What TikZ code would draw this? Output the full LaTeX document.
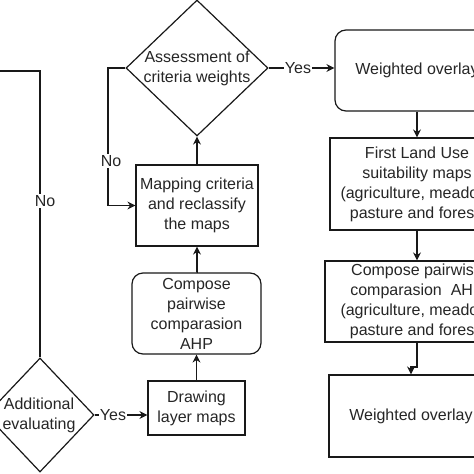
\documentclass[tikz,border=0pt]{standalone}
\usepackage{fontspec}
\setmainfont{Liberation Sans}
\usetikzlibrary{shapes.geometric,arrows.meta}
\begin{document}
\begin{tikzpicture}[x=1pt,y=-1pt,
  every node/.style={font=\fontsize{16}{20}\selectfont, text=black!85, align=center, inner sep=0pt},
  box/.style={draw=black!90, line width=1.2pt, rectangle},
  rbox/.style={box, rounded corners=11pt},
  dia/.style={draw=black!90, line width=1.2pt, diamond, inner sep=0pt},
  ln/.style={draw=black!90, line width=1.2pt},
  arr/.style={ln, -{Stealth[length=8pt,width=8pt]}},
  lbl/.style={fill=white, inner sep=1pt}]
\useasboundingbox (0,0) rectangle (474,474);
\fill[white] (0,0) rectangle (474,474);
\clip (0,0) rectangle (474,474);

% left column
\node[dia, minimum width=142pt, minimum height=136pt] (assess) at (197,68) {};
\node at (197,68) {Assessment of\\criteria weights};
\node[box, minimum width=122pt, minimum height=81pt] (map) at (197,205.5) {Mapping criteria\\and reclassify\\the maps};
\node[rbox, minimum width=129pt, minimum height=81pt] (comp) at (196.5,313.5) {Compose\\pairwise\\comparasion\\AHP};
\node[box, minimum width=97pt, minimum height=54pt] (drawl) at (196.5,408) {Drawing\\layer maps};
\node[dia, minimum width=108pt, minimum height=114pt] (add) at (40,415) {};
\node at (39,415) {Additional\\evaluating};
\coordinate (noL) at (-5,71);
\coordinate (c1) at (108,68);

% right column
\node[rbox, minimum width=164pt, minimum height=81pt] (wo1) at (417,70.5) {Weighted overlay};
\node[box, minimum width=174pt, minimum height=92pt] (first) at (417,184) {First Land Use\\suitability maps\\(agriculture, meadow,\\pasture and forest)};
\node[box, minimum width=184pt, minimum height=81pt] (cp) at (417,301.5) {Compose pairwise\\comparasion\ \ AHP\\(agriculture, meadow,\\pasture and forest)};
\node[box, minimum width=164pt, minimum height=82pt] (wo2) at (411,416) {Weighted overlay};
\coordinate (j1) at (417,367);

% connectors
\draw[arr] (drawl.north) -- (comp.south);
\draw[arr] (comp.north) -- (map.north |- comp.north) -- (map.south);
\draw[arr] (map.north) -- (assess.south);
\draw[arr] (assess.west) -- (c1) |- (map.west);
\node[lbl] at (111,161) {No};
\draw[arr] (add.east) -- (add.east -| drawl.west);
\node[lbl] at (113,415) {Yes};
\draw[ln] (add.north) |- (noL);
\node[lbl] at (45,201) {No};
\draw[arr] (assess.east) -- (assess.east -| wo1.west);
\node[lbl] at (298,68) {Yes};
\draw[arr] (wo1.south) -- (first.north);
\draw[arr] (first.south) -- (cp.north);
\draw[arr] (cp.south) -- (j1) -| (wo2.north);
\end{tikzpicture}
\end{document}
